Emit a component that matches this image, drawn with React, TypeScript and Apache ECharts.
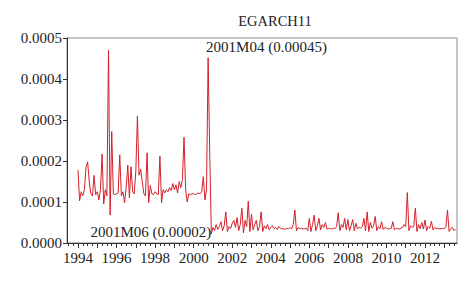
import React, { useEffect, useRef } from "react";
import * as echarts from "echarts";

// Monthly EGARCH(1,1) conditional variance
const startYear = 1994;
const values: number[] = [
  1.78e-4, 1.03e-4, 1.25e-4, 1.15e-4, 1.30e-4, 1.85e-4, 1.98e-4, 1.50e-4, 1.20e-4, 1.15e-4,
  1.65e-4, 1.18e-4, 1.25e-4, 1.05e-4, 1.30e-4, 2.17e-4, 0.95e-4, 1.30e-4, 1.15e-4, 4.70e-4,
  0.68e-4, 2.72e-4, 1.20e-4, 1.18e-4, 1.20e-4, 1.22e-4, 2.15e-4, 1.15e-4, 1.25e-4, 0.98e-4,
  1.35e-4, 1.90e-4, 1.10e-4, 1.86e-4, 1.25e-4, 1.20e-4, 1.75e-4, 3.10e-4, 1.65e-4, 1.80e-4,
  1.50e-4, 1.20e-4, 1.15e-4, 2.20e-4, 0.98e-4, 1.40e-4, 1.20e-4, 1.18e-4, 1.25e-4, 1.20e-4,
  1.18e-4, 2.12e-4, 0.98e-4, 1.30e-4, 1.22e-4, 1.30e-4, 1.25e-4, 1.35e-4, 1.28e-4, 1.45e-4,
  1.30e-4, 1.42e-4, 1.22e-4, 1.50e-4, 1.35e-4, 1.55e-4, 2.58e-4, 1.30e-4, 1.00e-4, 1.20e-4,
  1.18e-4, 1.20e-4, 1.20e-4, 1.18e-4, 1.20e-4, 1.22e-4, 1.20e-4, 1.25e-4, 1.62e-4, 1.05e-4,
  1.30e-4, 4.52e-4, 2.20e-4, 0.22e-4, 0.38e-4, 0.30e-4, 0.45e-4, 0.33e-4, 0.40e-4, 0.52e-4,
  0.30e-4, 0.42e-4, 0.76e-4, 0.28e-4, 0.40e-4, 0.35e-4, 0.48e-4, 0.55e-4, 0.38e-4, 0.62e-4,
  0.30e-4, 0.45e-4, 0.85e-4, 0.25e-4, 0.55e-4, 0.40e-4, 1.02e-4, 0.28e-4, 0.70e-4, 0.32e-4,
  0.45e-4, 0.55e-4, 0.30e-4, 0.40e-4, 0.76e-4, 0.28e-4, 0.42e-4, 0.35e-4, 0.45e-4, 0.32e-4,
  0.38e-4, 0.42e-4, 0.35e-4, 0.38e-4, 0.33e-4, 0.40e-4, 0.36e-4, 0.34e-4, 0.35e-4, 0.33e-4,
  0.36e-4, 0.34e-4, 0.38e-4, 0.35e-4, 0.45e-4, 0.80e-4, 0.30e-4, 0.38e-4, 0.35e-4, 0.36e-4,
  0.34e-4, 0.35e-4, 0.36e-4, 0.30e-4, 0.60e-4, 0.28e-4, 0.45e-4, 0.68e-4, 0.30e-4, 0.42e-4,
  0.60e-4, 0.32e-4, 0.45e-4, 0.38e-4, 0.50e-4, 0.34e-4, 0.36e-4, 0.35e-4, 0.34e-4, 0.36e-4,
  0.35e-4, 0.40e-4, 0.74e-4, 0.30e-4, 0.45e-4, 0.38e-4, 0.60e-4, 0.32e-4, 0.57e-4, 0.30e-4,
  0.42e-4, 0.57e-4, 0.30e-4, 0.48e-4, 0.35e-4, 0.38e-4, 0.36e-4, 0.40e-4, 0.60e-4, 0.30e-4,
  0.76e-4, 0.28e-4, 0.50e-4, 0.36e-4, 0.42e-4, 0.65e-4, 0.30e-4, 0.40e-4, 0.35e-4, 0.52e-4,
  0.33e-4, 0.38e-4, 0.36e-4, 0.34e-4, 0.35e-4, 0.36e-4, 0.52e-4, 0.32e-4, 0.36e-4, 0.35e-4,
  0.34e-4, 0.36e-4, 0.38e-4, 0.45e-4, 0.40e-4, 1.23e-4, 0.30e-4, 0.42e-4, 0.38e-4, 0.40e-4,
  0.85e-4, 0.28e-4, 0.45e-4, 0.35e-4, 0.50e-4, 0.34e-4, 0.56e-4, 0.30e-4, 0.40e-4, 0.36e-4,
  0.53e-4, 0.32e-4, 0.38e-4, 0.35e-4, 0.36e-4, 0.34e-4, 0.35e-4, 0.36e-4, 0.35e-4, 0.40e-4,
  0.80e-4, 0.28e-4, 0.35e-4, 0.38e-4, 0.30e-4, 0.34e-4,
];
const yearLabels: number[] = [1994, 1996, 1998, 2000, 2002, 2004, 2006, 2008, 2010, 2012];
const yearTicks: number[] = [
  1994, 1995, 1996, 1997, 1998, 1999, 2000, 2001, 2002, 2003, 2004,
  2005, 2006, 2007, 2008, 2009, 2010, 2011, 2012, 2013,
];
const maxIndex = 81; // 2001M04 (0.00045)
const minIndex = 83; // 2001M06 (0.00002)
const maxLabel = "2001M04 (0.00045)";
const minLabel = "2001M06 (0.00002)";
const title = "EGARCH11";

const FONT = "'Liberation Serif', 'DejaVu Serif', serif";

export default function App() {
  const ref = useRef<HTMLDivElement>(null);
  useEffect(() => {
    document.body.style.margin = "0";
    if (!ref.current) return;
    const chart = echarts.init(ref.current, null, { renderer: "svg" });
    const points = values.map((v, i) => [startYear + i / 12, v]);
    const quarterTicks: number[] = [];
    for (let y = 1993.5; y <= 2013.6; y += 0.25) quarterTicks.push(y);
    const xMin = 1993.43;
    const xMax = 2013.66;
    chart.setOption({
      animation: false,
      backgroundColor: "#fff",
      textStyle: { fontFamily: FONT },
      title: {
        text: title,
        left: 270,
        top: 8,
        textAlign: "center",
        textStyle: { fontFamily: FONT, fontSize: 14.5, fontWeight: "normal", color: "#222" },
      },
      grid: {
        left: 67,
        top: 38,
        right: 17,
        bottom: 42,
        show: true,
        borderColor: "#8a8a8a",
        borderWidth: 1,
      },
      xAxis: [
        {
          type: "value",
          min: xMin,
          max: xMax,
          position: "bottom",
          splitLine: { show: false },
          axisLine: { show: true, lineStyle: { color: "#333", width: 1 } },
          axisTick: { show: true, customValues: yearTicks, length: 5, lineStyle: { color: "#333" } },
          axisLabel: {
            customValues: yearLabels,
            formatter: (v: number) => String(Math.round(v)),
            fontFamily: FONT,
            fontSize: 15,
            color: "#222",
            margin: 7,
          },
        },
        {
          type: "value",
          min: xMin,
          max: xMax,
          position: "bottom",
          splitLine: { show: false },
          axisLine: { show: false },
          axisTick: { show: true, customValues: quarterTicks, length: 3, lineStyle: { color: "#333" } },
          axisLabel: { show: false },
        },
      ],
      yAxis: {
        type: "value",
        min: 0,
        max: 0.0005,
        interval: 0.0001,
        splitLine: { show: false },
        axisLine: { show: true, lineStyle: { color: "#333", width: 1 } },
        axisTick: { show: true, length: 4, lineStyle: { color: "#333" } },
        axisLabel: {
          formatter: (v: number) => v.toFixed(4),
          fontFamily: FONT,
          fontSize: 15,
          color: "#222",
          margin: 5,
        },
      },
      series: [
        {
          type: "line",
          xAxisIndex: 0,
          data: points,
          showSymbol: false,
          symbol: "none",
          lineStyle: { color: "#d42029", width: 1 },
          markPoint: {
            symbolSize: 0,
            data: [
              {
                coord: points[maxIndex],
                label: {
                  show: true,
                  formatter: maxLabel,
                  position: [-2, -18],
                  align: "left",
                  verticalAlign: "top",
                  fontFamily: FONT,
                  fontSize: 15,
                  color: "#222",
                },
              },
              {
                coord: points[minIndex],
                label: {
                  show: true,
                  formatter: minLabel,
                  position: [0, -2],
                  align: "right",
                  verticalAlign: "middle",
                  fontFamily: FONT,
                  fontSize: 15,
                  color: "#222",
                },
              },
            ],
          },
        },
      ],
    });
    return () => chart.dispose();
  }, []);
  return <div ref={ref} style={{ width: 474, height: 285 }} />;
}
